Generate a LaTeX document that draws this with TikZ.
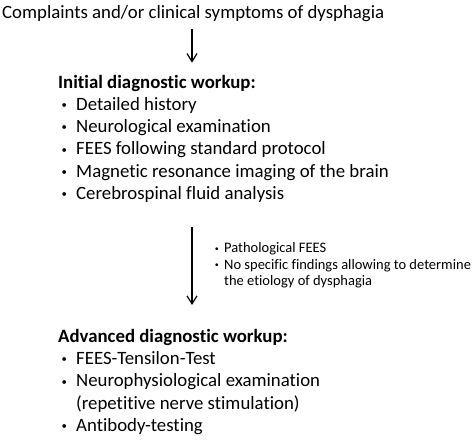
\documentclass[tikz,border=0pt]{standalone}
\usepackage{fontspec}
\setmainfont{Carlito}[Ligatures={NoCommon}]
\usetikzlibrary{arrows.meta}
\begin{document}
\begin{tikzpicture}[x=1pt,y=-1pt,
  block/.style={inner sep=0pt,anchor=base west},
  big/.style={font=\fontsize{18.8}{22.3}\selectfont},
  small/.style={font=\fontsize{14.5}{16.8}\selectfont},
  arr/.style={-{Straight Barb[length=8pt,width=10pt]},line width=1.2pt,black}]
\useasboundingbox (0,0) rectangle (474,440);
\newcommand{\bigitem}{\makebox[18pt][l]{\hspace{3.4pt}\raisebox{1.8pt}{\scalebox{0.57}{\textbullet}}}}
\newcommand{\smallitem}{\makebox[10.5pt][l]{\hspace{1.2pt}\raisebox{1.3pt}{\scalebox{0.55}{\textbullet}}}}
\coordinate (ax) at (192,0);
\node[block,big] (title) at (2,18.3) {\begin{tabular}[t]{@{}l@{}}Complaints and/or clinical symptoms of dysphagia\end{tabular}};
\node[block,big] (init) at (58,88) {\begin{tabular}[t]{@{}l@{}}
\textbf{Initial diagnostic workup:}\\
\bigitem Detailed history\\
\bigitem Neurological examination\\
\bigitem FEES following standard protocol\\
\bigitem Magnetic resonance imaging of the brain\\
\bigitem Cerebrospinal fluid analysis
\end{tabular}};
\node[block,small] (cond) at (213.5,252.3) {\begin{tabular}[t]{@{}l@{}}
\smallitem Pathological FEES\\
\smallitem No specific findings allowing to determine\\
\hspace*{10.5pt}the etiology of dysphagia
\end{tabular}};
\node[block,big] (adv) at (58,342.3) {\begin{tabular}[t]{@{}l@{}}
\textbf{Advanced diagnostic workup:}\\
\bigitem FEES-Tensilon-Test\\
\bigitem Neurophysiological examination\\
\hspace*{18pt}(repetitive nerve stimulation)\\
\bigitem Antibody-testing
\end{tabular}};
\draw[arr,shorten <=4pt,shorten >=9.5pt] (title.south -| ax) -- (init.north -| ax);
\draw[arr,shorten <=21pt,shorten >=21.5pt] (init.south -| ax) -- (adv.north -| ax);
\end{tikzpicture}
\end{document}
